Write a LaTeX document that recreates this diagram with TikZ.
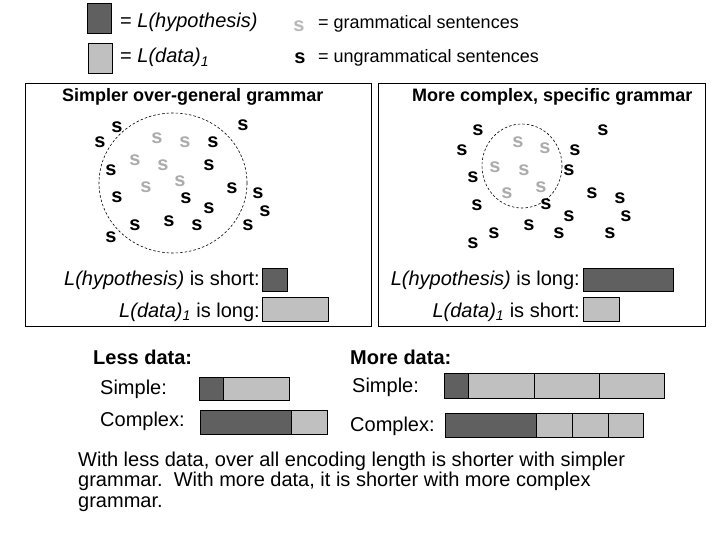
\documentclass[tikz,border=0pt]{standalone}
\usepackage{fontspec}
\setmainfont{Liberation Sans}
\definecolor{dk}{RGB}{96,96,96}
\definecolor{lt}{RGB}{192,192,192}
\definecolor{sgrey}{RGB}{172,172,172}
\begin{document}
\begin{tikzpicture}[x=1pt,y=-1pt,
  lbl/.style={font=\fontsize{20}{24}\selectfont, inner sep=0pt, anchor=base west},
  lblr/.style={font=\fontsize{20}{24}\selectfont, inner sep=0pt, anchor=base east},
  lbls/.style={font=\fontsize{18}{22}\selectfont, inner sep=0pt, anchor=base west},
  ttl/.style={font=\bfseries\fontsize{18}{22}\selectfont, inner sep=0pt, anchor=base west},
  hdr/.style={font=\bfseries\fontsize{20}{24}\selectfont, inner sep=0pt, anchor=base west},
  sb/.style={font=\bfseries\fontsize{20}{24}\selectfont, inner sep=0pt},
  sg/.style={sb, text=sgrey},
  darkbar/.style={fill=dk, draw=black, line width=0.8pt},
  lightbar/.style={fill=lt, draw=black, line width=0.8pt},
  panel/.style={draw=black, line width=0.9pt},
  ring/.style={draw=black, dashed, dash pattern=on 2.5pt off 2pt, line width=0.6pt}]
\useasboundingbox (0,0) rectangle (720,540);
% legend
\draw[darkbar] (87,3) rectangle (111,33);
\draw[lightbar] (88,43) rectangle (112,73);
\node[lbl] (lh) at (120,28) {= \textit{L(hypothesis)}};
\node[lbl] (ld) at (120,63) {= \textit{L(data)\textsubscript{1}}};
\node[sg, text=sgrey!85] (gs) at (299,26.5) {s};
\node[sb] (bs) at (300,58.5) {s};
\node[lbls] (gt) at (318,29) {= grammatical sentences};
\node[lbls] (ut) at (318,63) {= ungrammatical sentences};
% panels
\draw[panel] (25,83) rectangle (371,326);
\draw[panel] (378,83) rectangle (705,326);
\node[ttl] (t1) at (62,102) {Simpler over-general grammar};
\node[ttl] (t2) at (412,102) {More complex, specific grammar};
% left circle and sentences
\draw[ring] (173,183) ellipse [x radius=74, y radius=70];
\foreach \x/\y [count=\i] in {117/127,100/142,213/142,243/125,209/165,111/170,232/188,258/193,117/197,186/198,209/208,265/211,135/225,169/221,197/225,248/225,111/237}
  \node[sb] (lb\i) at (\x,\y) {s};
\foreach \x/\y [count=\i] in {157/138,185/142,135/160,163/165,146/187,180/181}
  \node[sg] (lg\i) at (\x,\y) {s};
% right circle and sentences
\draw[ring] (522,166) ellipse [x radius=40, y radius=42];
\foreach \x/\y [count=\i] in {478/130,462/150,575/150,603/130,473/177,569/170,477/205,546/204,592/193,620/198,569/216,626/216,529/225,494/233,559/233,610/233,473/243}
  \node[sb] (rb\i) at (\x,\y) {s};
\foreach \x/\y [count=\i] in {518/142,545/148,495/167,524/170,507/193,541/187}
  \node[sg] (rg\i) at (\x,\y) {s};
% panel captions
\node[lblr] (c1) at (260,285) {\textit{L(hypothesis)} is short:};
\draw[darkbar] (262,268) rectangle (287,291);
\node[lblr] (c2) at (260,317) {\textit{L(data)\textsubscript{1}} is long:};
\draw[lightbar] (262,297) rectangle (328,321);
\node[lblr] (c3) at (580,285) {\textit{L(hypothesis)} is long:};
\draw[darkbar] (583,268) rectangle (673,291);
\node[lblr] (c4) at (580,317) {\textit{L(data)\textsubscript{1}} is short:};
\draw[lightbar] (583,297) rectangle (619,321);
% less data
\node[hdr] (h1) at (93,364) {Less data:};
\node[lbl] (s1) at (100,394) {Simple:};
\node[lbl] (x1) at (100,426) {Complex:};
\draw[lightbar] (223,377) rectangle (289,400);
\draw[darkbar] (199,377) rectangle (223,400);
\draw[lightbar] (291,410) rectangle (327,434);
\draw[darkbar] (200,410) rectangle (291,434);
% more data
\node[hdr] (h2) at (350,364) {More data:};
\node[lbl] (s2) at (352,392) {Simple:};
\node[lbl] (x2) at (350,431) {Complex:};
\draw[lightbar] (468,373) rectangle (534,398);
\draw[lightbar] (534,373) rectangle (599,398);
\draw[lightbar] (599,373) rectangle (664,398);
\draw[darkbar] (444,373) rectangle (468,398);
\draw[lightbar] (536,413) rectangle (572,437);
\draw[lightbar] (572,413) rectangle (608,437);
\draw[lightbar] (608,413) rectangle (643,437);
\draw[darkbar] (445,413) rectangle (536,437);
% conclusion
\node[lbl] (p1) at (78,466.5) {With less data, over all encoding length is shorter with simpler};
\node[lbl] (p2) at (78,486.8) {grammar.\ \ With more data, it is shorter with more complex};
\node[lbl] (p3) at (78,507) {grammar.};
\end{tikzpicture}
\end{document}
